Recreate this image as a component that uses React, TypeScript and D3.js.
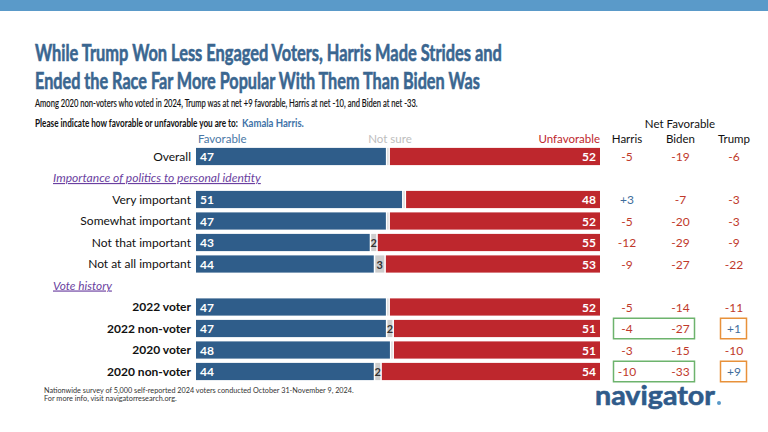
import * as d3 from 'd3';
import { useLayoutEffect, useRef, useState } from 'react';

const W = 768;
const H = 432;

// rows in chart order; h1/h2 are section headers
const slots = ['o', 'h1', 'r1', 'r2', 'r3', 'r4', 'h2', 'v1', 'v2', 'v3', 'v4'];
const rowSlots = ['o', 'r1', 'r2', 'r3', 'r4', 'v1', 'v2', 'v3', 'v4'];
const rowLabels = [
  'Overall',
  'Very important',
  'Somewhat important',
  'Not that important',
  'Not at all important',
  '2022 voter',
  '2022 non-voter',
  '2020 voter',
  '2020 non-voter',
];
const favorable = [47, 51, 47, 43, 44, 47, 47, 48, 44];
const notSure = [1, 1, 1, 2, 3, 1, 2, 1, 2];
const unfavorable = [52, 48, 52, 55, 53, 52, 51, 51, 54];
const netHarris = [-5, 3, -5, -12, -9, -5, -4, -3, -10];
const netBiden = [-19, -7, -20, -29, -27, -14, -27, -15, -33];
const netTrump = [-6, -3, -3, -9, -22, -11, 1, -10, 9];
const boldRows = [false, false, false, false, false, true, true, true, true];
const boxedRows = ['v2', 'v4'];

const sections = [
  { slot: 'h1', text: 'Importance of politics to personal identity', width: 208 },
  { slot: 'h2', text: 'Vote history', width: 59 },
];

const BLUE = '#2f5d8a';
const RED = '#be272d';
const GREY = '#cdcdcd';
const TITLE = '#3a6690';
const FONT = 'Lato, "Open Sans", sans-serif';

const fmt = (v: number) => (v > 0 ? `+${v}` : `${v}`);

// text squeezed horizontally to a given width (the original uses a condensed face)
function Squeezed(props: { x: number; y: number; width: number; size: number; weight?: number; fill: string; stroke?: number; italic?: boolean; underline?: boolean; children: string }) {
  const ref = useRef<SVGTextElement>(null);
  const [k, setK] = useState(1);
  useLayoutEffect(() => {
    if (ref.current == null) return;
    const len = ref.current.getComputedTextLength();
    if (len > 0) setK(props.width / len);
  }, [props.width, props.children]);
  return (
    <text
      ref={ref}
      transform={`translate(${props.x},${props.y}) scale(${k},1)`}
      fontSize={props.size}
      fontWeight={props.weight ?? 400}
      fontStyle={props.italic ? 'italic' : 'normal'}
      textDecoration={props.underline ? 'underline' : 'none'}
      fill={props.fill}
      stroke={props.stroke ? props.fill : 'none'}
      strokeWidth={props.stroke ?? 0}
    >
      {props.children}
    </text>
  );
}

export default function App() {
  const y = d3.scaleBand<string>().domain(slots).range([145.75, 382.25]).paddingInner(0.2).paddingOuter(0.1);
  const x = d3.scaleLinear().domain([0, 100]).range([196, 600]);
  const netCols = d3.scalePoint<string>().domain(['Harris', 'Biden', 'Trump']).range([627, 734]);
  const netData = [netHarris, netBiden, netTrump];
  const step = y.step();
  const bh = y.bandwidth();

  return (
    <svg width={W} height={H} style={{ display: 'block', position: 'absolute', left: 0, top: 0 }} fontFamily={FONT}>
      <rect x={0} y={0} width={W} height={H} fill='#fff' />
      <rect x={0} y={0} width={W} height={11} fill='#5a9ac9' />

      <Squeezed x={35} y={61} width={467} size={22.5} weight={700} stroke={0.6} fill={TITLE}>
        While Trump Won Less Engaged Voters, Harris Made Strides and
      </Squeezed>
      <Squeezed x={35} y={88.5} width={445} size={22.5} weight={700} stroke={0.6} fill={TITLE}>
        Ended the Race Far More Popular With Them Than Biden Was
      </Squeezed>
      <Squeezed x={35} y={107} width={383} size={11.5} stroke={0.2} fill='#111'>
        Among 2020 non-voters who voted in 2024, Trump was at net +9 favorable, Harris at net -10, and Biden at net -33.
      </Squeezed>
      <Squeezed x={35} y={127} width={203} size={11.5} weight={700} fill='#111'>
        Please indicate how favorable or unfavorable you are to:
      </Squeezed>
      <Squeezed x={242} y={127} width={62} size={11.5} weight={700} fill='#3f73a8'>
        Kamala Harris.
      </Squeezed>

      <text x={198} y={142.5} fontSize={11.5} fill='#4a78a6'>Favorable</text>
      <text x={390} y={142.5} fontSize={11.5} fill='#bdbdbd' textAnchor='middle'>Not sure</text>
      <text x={600} y={142.5} fontSize={11.5} fill={RED} textAnchor='end'>Unfavorable</text>

      <text x={680} y={128} fontSize={11.5} fill='#111' textAnchor='middle'>Net Favorable</text>
      {netCols.domain().map((c) => (
        <text key={c} x={netCols(c)} y={142.5} fontSize={11.5} fill='#111' textAnchor='middle'>{c}</text>
      ))}

      {sections.map((s) => (
        <Squeezed key={s.slot} x={53} y={(y(s.slot) ?? 0) + bh / 2 + 4} width={s.width} size={11.5} italic underline fill='#6b3fa0'>
          {s.text}
        </Squeezed>
      ))}

      {rowSlots.map((s, i) => {
        const y0 = y(s) ?? 0;
        const cy = y0 + bh / 2;
        const f = favorable[i];
        const u = unfavorable[i];
        const nsX0 = x(f) + 1.5;
        const nsX1 = x(100 - u) - 1.5;
        return (
          <g key={s}>
            <text x={191} y={cy + 4} fontSize={12} fontWeight={boldRows[i] ? 700 : 400} fill='#111' textAnchor='end'>
              {rowLabels[i]}
            </text>
            <rect x={x(0)} y={y0} width={x(f) - x(0)} height={bh} fill={BLUE} />
            <rect x={nsX0} y={y0} width={Math.max(1, nsX1 - nsX0)} height={bh} fill={GREY} />
            <rect x={x(100 - u)} y={y0} width={x(100) - x(100 - u)} height={bh} fill={RED} />
            <text x={x(0) + 4} y={cy + 4.5} fontSize={12} fontWeight={700} fill='#fff'>{f}</text>
            <text x={x(100) - 4} y={cy + 4.5} fontSize={12} fontWeight={700} fill='#fff' textAnchor='end'>{u}</text>
            {notSure[i] >= 2 && (
              <text x={(nsX0 + nsX1) / 2} y={cy + 4.5} fontSize={11} fontWeight={700} fill='#333' textAnchor='middle'>
                {notSure[i]}
              </text>
            )}
            {netCols.domain().map((c, j) => {
              const v = netData[j][i];
              return (
                <text key={c} x={netCols(c)} y={cy + 4.5} fontSize={12} fill={v > 0 ? '#3f6d9c' : '#c0392b'} textAnchor='middle'>
                  {fmt(v)}
                </text>
              );
            })}
            {boxedRows.includes(s) && (
              <>
                <rect x={613.5} y={cy - step / 2 + 0.5} width={81} height={step - 1} fill='none' stroke='#6db36d' strokeWidth={1.5} />
                <rect x={720.5} y={cy - step / 2 + 0.5} width={26} height={step - 1} fill='none' stroke='#e8913a' strokeWidth={1.5} />
              </>
            )}
          </g>
        );
      })}

      <Squeezed x={44} y={393} width={310} size={7.5} fill='#333'>
        Nationwide survey of 5,000 self-reported 2024 voters conducted October 31-November 9, 2024.
      </Squeezed>
      <Squeezed x={44} y={401} width={133} size={7.5} fill='#333'>
        For more info, visit navigatorresearch.org.
      </Squeezed>

      <Squeezed x={595} y={405} width={120} size={27} weight={700} stroke={0.6} fill='#2f5b8a'>
        navigator
      </Squeezed>
      <circle cx={719} cy={403} r={2} fill='#5a9ac9' />
    </svg>
  );
}
